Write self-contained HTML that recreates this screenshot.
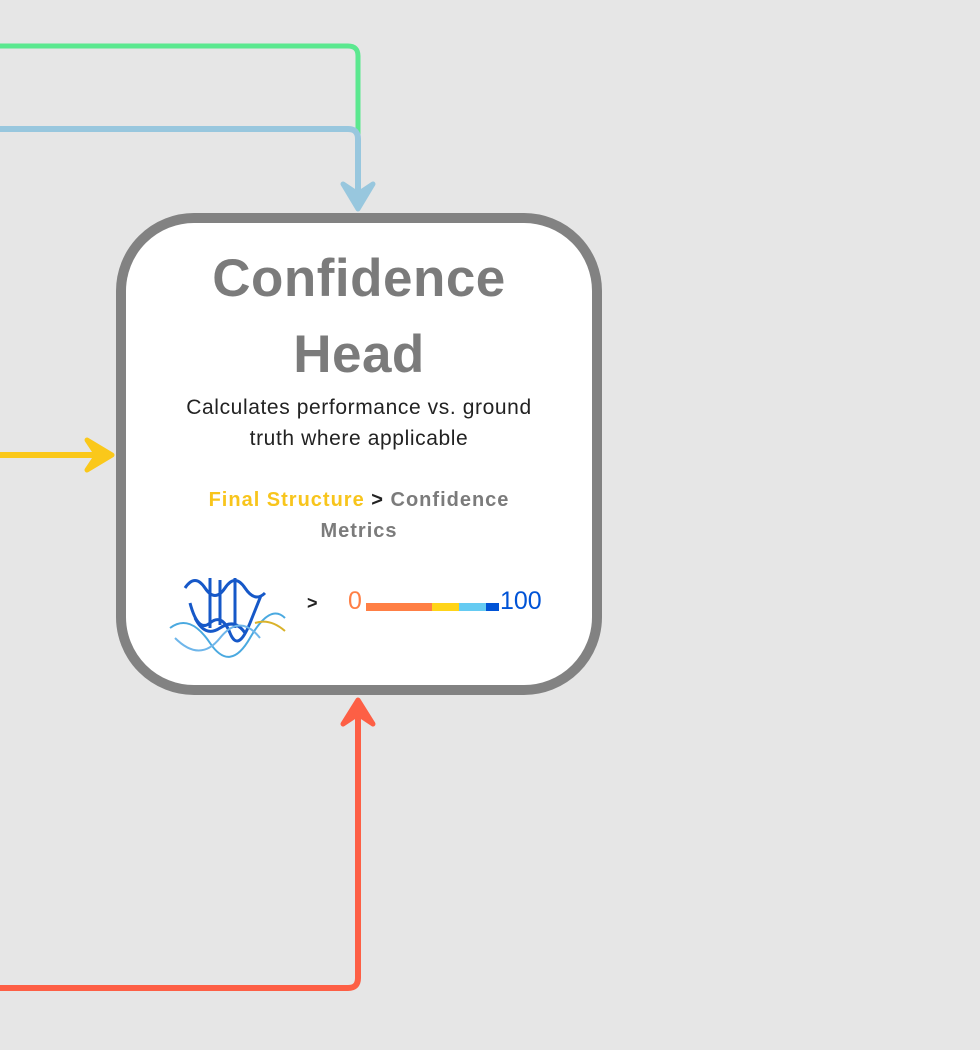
<!DOCTYPE html>
<html><head><style>
body{margin:0;width:980px;height:1050px;background:#e6e6e6;position:relative;overflow:hidden;font-family:"Liberation Sans","DejaVu Sans",sans-serif}
.box{position:absolute;left:116px;top:213px;width:466px;height:462px;border:10px solid #828282;border-radius:78px;background:#fff}
.t{position:absolute;left:116px;width:486px;text-align:center}
</style></head><body>
<svg width="980" height="1050" style="position:absolute;left:0;top:0">
<path d="M0 46 H348 Q358 46 358 56 V190" fill="none" stroke="#5be88f" stroke-width="5"/>
<path d="M0 129 H348 Q358 129 358 139 V200" fill="none" stroke="#98c7de" stroke-width="6"/>
<path d="M343 184 L358 194 L373 184 L358 209 Z" fill="#98c7de" stroke="#98c7de" stroke-width="5" stroke-linejoin="round"/>
<path d="M0 455 H100" stroke="#fac81a" stroke-width="6"/>
<path d="M87 440 L97 455 L87 470 L112 455 Z" fill="#fac81a" stroke="#fac81a" stroke-width="5" stroke-linejoin="round"/>
<path d="M0 988 H348 Q358 988 358 978 V715" fill="none" stroke="#fd5f45" stroke-width="6"/>
<path d="M343 724 L358 714 L373 724 L358 700 Z" fill="#fd5f45" stroke="#fd5f45" stroke-width="5" stroke-linejoin="round"/>
</svg>
<div class="box"></div>
<div class="t" style="top:241px;font-size:53px;font-weight:bold;color:#7b7b7b;line-height:76px;letter-spacing:0.5px">Confidence<br>Head</div>
<div class="t" style="top:392px;font-size:21px;color:#222;line-height:31px;letter-spacing:0.6px">Calculates performance vs. ground<br>truth where applicable</div>
<div class="t" style="top:485px;font-size:20px;font-weight:bold;color:#7b7b7b;line-height:31px;letter-spacing:1px"><span style="color:#f8c51c">Final Structure</span> <span style="color:#222">&gt;</span> Confidence<br>Metrics</div>
<svg width="130" height="90" style="position:absolute;left:165px;top:568px">
<g fill="none" stroke="#1658c8" stroke-width="3">
<path d="M20 20 q10 -15 20 0 t20 0 t20 0 t20 5"/>
<path d="M25 35 q8 30 20 20 t20 10 t20 -10 t10 -25"/>
<path d="M30 50 q10 20 25 10 t25 5"/>
<path d="M45 10 v50 M55 12 v45 M70 10 v50"/>
</g>
<path d="M5 60 q20 -15 40 15 t40 -5 t35 -20" fill="none" stroke="#4aa9e0" stroke-width="2"/>
<path d="M10 70 q25 25 45 0 t40 0" fill="none" stroke="#6fb6ea" stroke-width="2"/>
<path d="M90 55 q15 -5 30 8" fill="none" stroke="#d9b22a" stroke-width="2"/>
</svg>
<div style="position:absolute;left:307px;top:593px;font-size:18px;font-weight:bold;color:#222">&gt;</div>
<div style="position:absolute;left:348px;top:587px;font-size:25px;color:#ff7f45">0</div>
<div style="position:absolute;left:366px;top:603px;width:66px;height:8px;background:#ff7f45"></div>
<div style="position:absolute;left:432px;top:603px;width:27px;height:8px;background:#ffd419"></div>
<div style="position:absolute;left:459px;top:603px;width:27px;height:8px;background:#65cbf2"></div>
<div style="position:absolute;left:486px;top:603px;width:13px;height:8px;background:#0053d6"></div>
<div style="position:absolute;left:500px;top:587px;font-size:25px;color:#0053d6">100</div>
</body></html>
